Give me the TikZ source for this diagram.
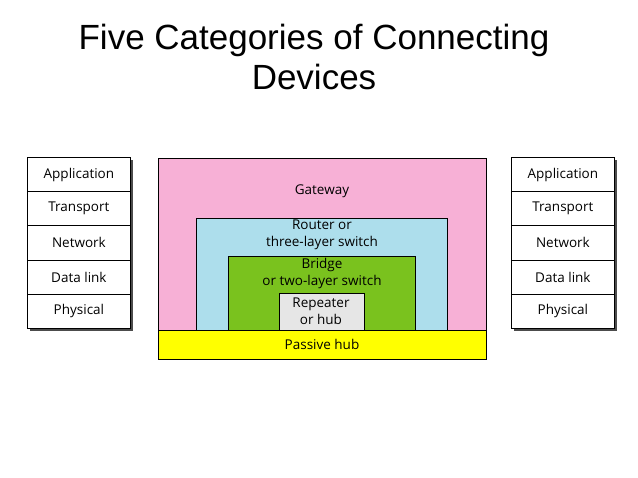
\documentclass[tikz,border=0pt]{standalone}
\usepackage{fontspec}
\setmainfont{Open Sans}
\newfontfamily\titlefont{Liberation Sans}
\begin{document}
\begin{tikzpicture}[x=1pt,y=-1pt,
  layer/.style={draw=black,line width=0.8pt,fill=white,minimum width=103pt,minimum height=34.2pt,inner sep=0pt,font=\fontsize{13.5}{14}\selectfont},
  shadowbox/.style={fill=black!70},
  region/.style={draw=black,line width=0.7pt},
  lbl/.style={font=\fontsize{13.5}{17}\selectfont,align=center,inner sep=0pt}]
\useasboundingbox (0,0) rectangle (638,478);
\node[font=\titlefont\fontsize{35}{40}\selectfont,align=center] (title) at (314,57) {Five Categories of Connecting\\Devices};
% stacks
\foreach \sx/\sn in {27/L,511/R}{
  \fill[shadowbox] (\sx+3,160) rectangle (\sx+106,331);
  \foreach \t [count=\i] in {Application,Transport,Network,Data link,Physical}{
    \node[layer,anchor=north west] (\sn\i) at (\sx,{157+(\i-1)*34.2}) {\t};
  }
}
% regions
\draw[region,fill={rgb,255:red,247;green,176;blue,214}] (158,158) rectangle (486,330);
\draw[region,fill={rgb,255:red,173;green,222;blue,236}] (196,218) rectangle (447,330);
\draw[region,fill={rgb,255:red,122;green,194;blue,30}] (228,256) rectangle (415,330);
\draw[region,fill={rgb,255:red,230;green,230;blue,230}] (279,293) rectangle (364,330);
\draw[region,fill={rgb,255:red,255;green,255;blue,0}] (158,330) rectangle (486,359);
\node[lbl] (gw) at (322,191) {Gateway};
\node[lbl] (rt) at (322,235) {Router or\\three-layer switch};
\node[lbl] (br) at (322,273) {Bridge\\or two-layer switch};
\node[lbl] (rp) at (321,311) {Repeater\\or hub};
\node[lbl] (ph) at (322,344) {Passive hub};
\end{tikzpicture}
\end{document}
